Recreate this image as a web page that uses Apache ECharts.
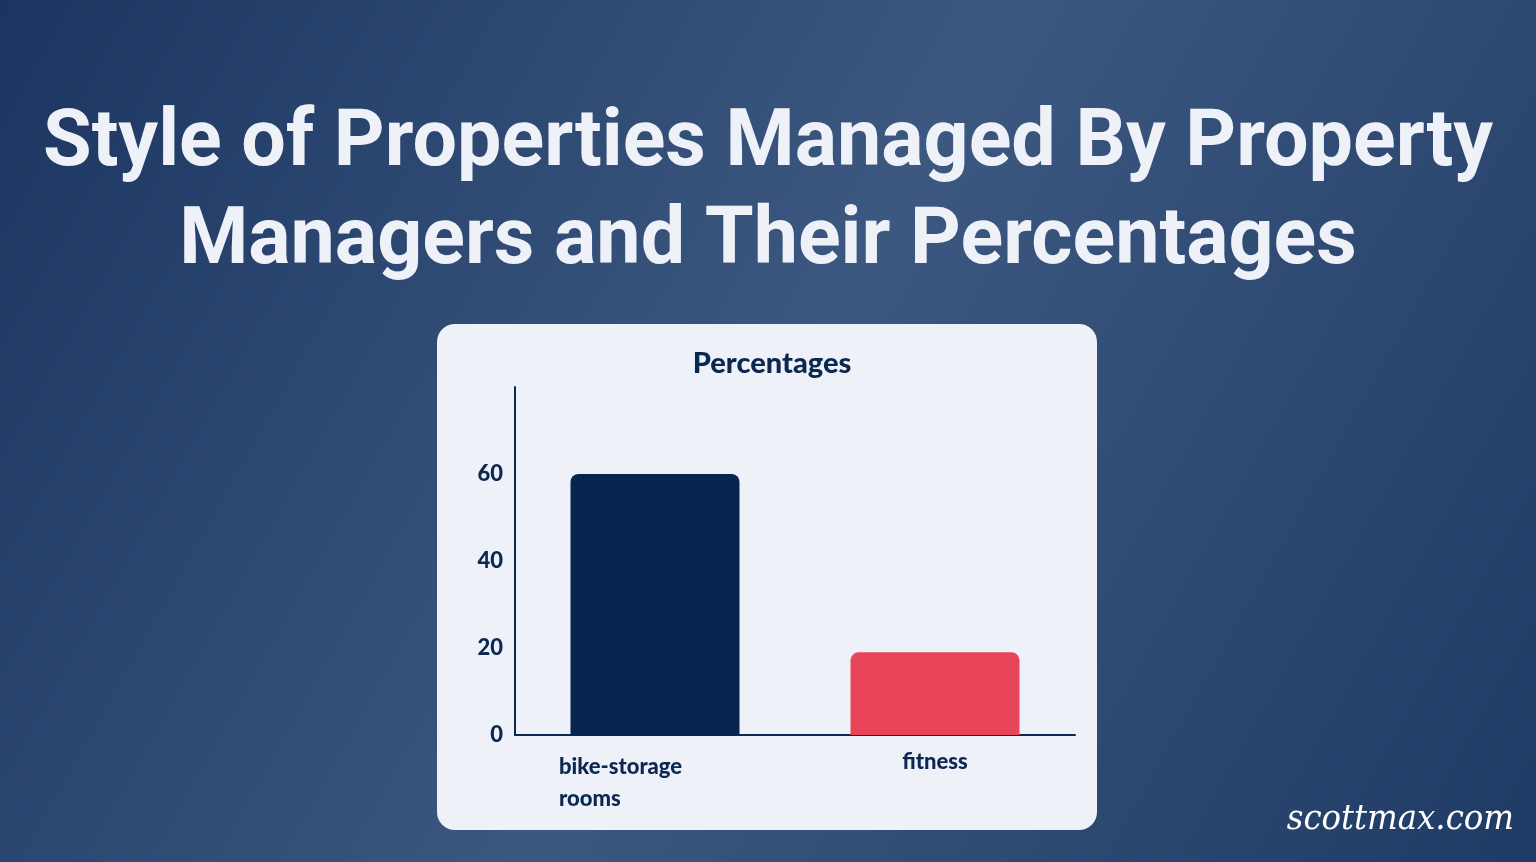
<!DOCTYPE html>
<html><head><meta charset="utf-8">
<script src="https://cdn.jsdelivr.net/npm/echarts@6/dist/echarts.min.js"></script>
<style>html,body{margin:0;padding:0;width:1536px;height:862px;overflow:hidden}
#c{width:1536px;height:862px}</style></head>
<body><div id="c"></div>
<script>
const categories = ['bike-storage rooms', 'fitness'];
const values = [60, 19];
const barColors = ['#07264f', '#e8445a'];
const yTicks = [0, 20, 40, 60];

const lbl = {color:'#0b2850', fontSize:22, fontWeight:900, fontFamily:'Lato'};
const chart = echarts.init(document.getElementById('c'));
chart.setOption({
  backgroundColor: new echarts.graphic.LinearGradient(0,0,1,1,[
    {offset:0,color:'#1b3560'},{offset:0.5,color:'#3c5880'},{offset:1,color:'#1f3a64'}]),
  graphic: [
    {type:'rect', shape:{x:437,y:324,width:660,height:506,r:18}, style:{fill:'#eef2f8'}, z:0},
    {type:'text', x:768, y:96, style:{text:'Style of Properties Managed By Property\nManagers and Their Percentages',
      fill:'#eef2f8', font:'bold 79px Roboto', align:'center', verticalAlign:'top', lineHeight:98}},
    {type:'text', right:22, top:802, style:{text:'scottmax.com', fill:'#ffffff', font:'italic 36px "DejaVu Serif Condensed"'}}
  ],
  title: {text:'Percentages', left:767, top:344, textAlign:'center',
    textStyle:{color:'#0b2850', fontSize:29, fontWeight:900, fontFamily:'Lato'}},
  grid: {left:515, top:387, width:560, height:348},
  xAxis: {type:'category', data:categories,
    axisLine:{lineStyle:{color:'#0b2850', width:2}}, axisTick:{show:false},
    axisLabel:{margin:16, formatter: v => v==='fitness' ? '{a|fitness}' : '{b|bike-storage}\n{b|rooms}',
      rich:{a:lbl, b:Object.assign({}, lbl, {width:192, align:'left', lineHeight:32})}}},
  yAxis: {type:'value', min:0, max:80, interval:20,
    axisLine:{show:true, lineStyle:{color:'#0b2850', width:2}}, splitLine:{show:false}, axisTick:{show:false},
    axisLabel:Object.assign({}, lbl, {margin:12, formatter: v => yTicks.includes(v) ? String(v) : ''})},
  series: [{type:'bar', barWidth:169,
    data: values.map((v,i)=>({value:v, itemStyle:{color:barColors[i], borderRadius:[8,8,0,0]}}))}]
});
</script></body></html>
